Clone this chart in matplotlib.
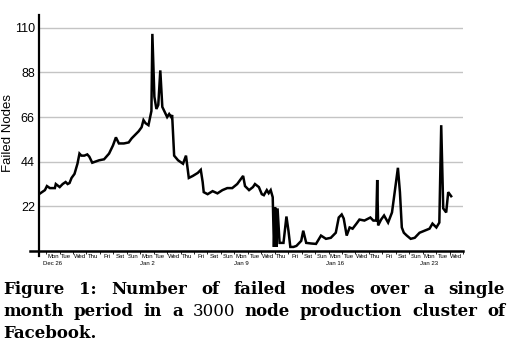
import matplotlib
matplotlib.use("Agg")
import matplotlib.pyplot as plt

# failed node counts, time in days from Mon Dec 26 00:00
days = [-0.53, -0.31, -0.09, 0.06, 0.28, 0.65, 0.72, 1.01, 1.23, 1.45,
        1.60, 1.74, 1.89, 2.11, 2.33, 2.48, 2.62, 2.84, 3.06, 3.21,
        3.43, 3.65, 3.94, 4.31, 4.68, 4.97, 5.19, 5.41, 5.78, 6.14,
        6.36, 6.58, 6.88, 7.10, 7.24, 7.39, 7.61, 7.83, 7.90, 8.05,
        8.20, 8.34, 8.49, 8.64, 8.86, 9.00, 9.15, 9.30, 9.37, 9.52,
        9.81, 10.18, 10.40, 10.61, 10.91, 11.28, 11.50, 11.64, 11.72, 12.01,
        12.38, 12.74, 13.11, 13.47, 13.84, 14.21, 14.43, 14.65, 14.79, 15.09,
        15.38, 15.53, 15.82, 16.04, 16.19, 16.41, 16.55, 16.70, 16.85, 16.94,
        17.03, 17.12, 17.21, 17.36, 17.65, 17.87, 18.02, 18.16, 18.39, 18.61,
        18.97, 19.12, 19.34, 19.71, 20.07, 20.44, 20.81, 21.17, 21.54, 21.76,
        21.98, 22.13, 22.35, 22.57, 22.79, 23.08, 23.30, 23.67, 24.11, 24.33,
        24.55, 24.62, 24.69, 24.91, 25.13, 25.43, 25.72, 25.94, 26.16, 26.31,
        26.45, 26.60, 26.82, 27.11, 27.41, 27.77, 28.14, 28.51, 28.73, 29.02,
        29.24, 29.38, 29.53, 29.75, 29.90, 30.12]
failed = [28, 29, 30, 32, 31, 31, 33, 31.5, 33, 34,
          33, 33.5, 36, 38, 43, 48, 47, 47, 47.6, 46.5,
          43.5, 44, 44.7, 45.2, 48, 52, 56, 53, 53, 53.5,
          55.5, 57, 59, 61, 64.5, 63, 62, 69, 107, 76,
          70, 72, 89, 71, 68, 66, 67.5, 66, 67, 47,
          44.7, 43, 47, 36, 37, 38.5, 40, 34, 29, 28,
          29.5, 28.4, 30, 31, 31, 33, 35, 37, 32, 30,
          31.5, 33, 31.5, 28, 27.5, 30, 28.5, 30, 26.5, 2,
          21.5, 2, 21, 4, 4, 17, 10, 2, 2, 2.5,
          5, 10, 4, 3.7, 3.5, 7.6, 6, 6.5, 9, 16.5,
          18, 16, 7.6, 11.6, 11, 13.5, 15.5, 15, 16.5, 15,
          15, 35, 12.6, 15.5, 17.5, 14, 19, 30, 41, 29,
          11.6, 9, 7.6, 6, 6.5, 9, 10, 11, 13.5, 11.6,
          14, 62, 21, 19, 29, 27]

day_names = ["Mon", "Tue", "Wed", "Thu", "Fri", "Sat", "Sun"]
week_dates = ["Dec 26", "Jan 2", "Jan 9", "Jan 16", "Jan 23"]
yticks = [22, 44, 66, 88, 110]
n_days = 31

caption = [
    ["Figure", "1:", "Number", "of", "failed", "nodes", "over", "a", "single"],
    ["month", "period", "in", "a", "3000", "node", "production", "cluster", "of"],
    ["Facebook."],
]

plt.rcParams['font.family'] = 'Liberation Sans'

fig = plt.figure(figsize=(5.08, 3.44), dpi=100)
W, H = 508, 344
ax = fig.add_axes([39 / W, 1 - 251 / H, 424 / W, 236 / H])

for y in yticks:
    ax.axhline(y, color="#c4c4c4", lw=1.0, zorder=1)
ax.plot(days, failed, color="black", lw=1.8, zorder=3, solid_joinstyle="miter")

ax.set_xlim(-0.53, 30.56)
ax.set_ylim(0, 116.3)

for s in ["top", "right", "bottom", "left"]:
    ax.spines[s].set_visible(False)
# axis lines, slightly overshooting at the corner
ax.plot([-0.022, 1.0], [0, 0], transform=ax.transAxes, color="black",
        lw=1.8, clip_on=False, zorder=4)
ax.plot([0, 0], [-0.02, 1.0], transform=ax.transAxes, color="black",
        lw=1.6, clip_on=False, zorder=4)

ax.set_yticks(yticks)
ax.set_yticklabels([str(v) for v in yticks], fontsize=9)
ax.tick_params(axis="y", length=0, pad=3)

# day boundaries as small ticks, day names centred between them
ax.set_xticks(range(n_days + 1), minor=True)
ax.tick_params(axis="x", which="minor", length=2.5, width=0.6, direction="out")
centers = [d + 0.5 for d in range(n_days)]
labels = []
for d in range(n_days):
    lab = day_names[d % 7]
    if d % 7 == 0:
        lab += "\n" + week_dates[d // 7]
    labels.append(lab)
ax.set_xticks(centers)
ax.set_xticklabels(labels, fontsize=4.3, va="top", linespacing=1.5)
ax.tick_params(axis="x", which="major", length=0, pad=2.5)

fig.text(8 / W, 1 - 133 / H, "Failed Nodes", rotation=90, ha="center",
         va="center", fontsize=9.5)

# justified bold serif caption
fig.canvas.draw()
renderer = fig.canvas.get_renderer()
left, right = 3.5, 505.0
baselines = [294.5, 316.0, 337.5]
cap_size = 12.0
for li, words in enumerate(caption):
    texts = []
    for w in words:
        wt = "normal" if w == "3000" else "bold"
        t = fig.text(0, 1 - baselines[li] / H, w, fontsize=cap_size,
                     family="DejaVu Serif", weight=wt, ha="left", va="baseline")
        texts.append(t)
    widths = [t.get_window_extent(renderer).width for t in texts]
    if li < len(caption) - 1:
        gap = (right - left - sum(widths)) / (len(words) - 1)
    else:
        gap = 6
    x = left
    for t, w in zip(texts, widths):
        t.set_x(x / W)
        x += w + gap

fig.savefig("out.png", dpi=100)
